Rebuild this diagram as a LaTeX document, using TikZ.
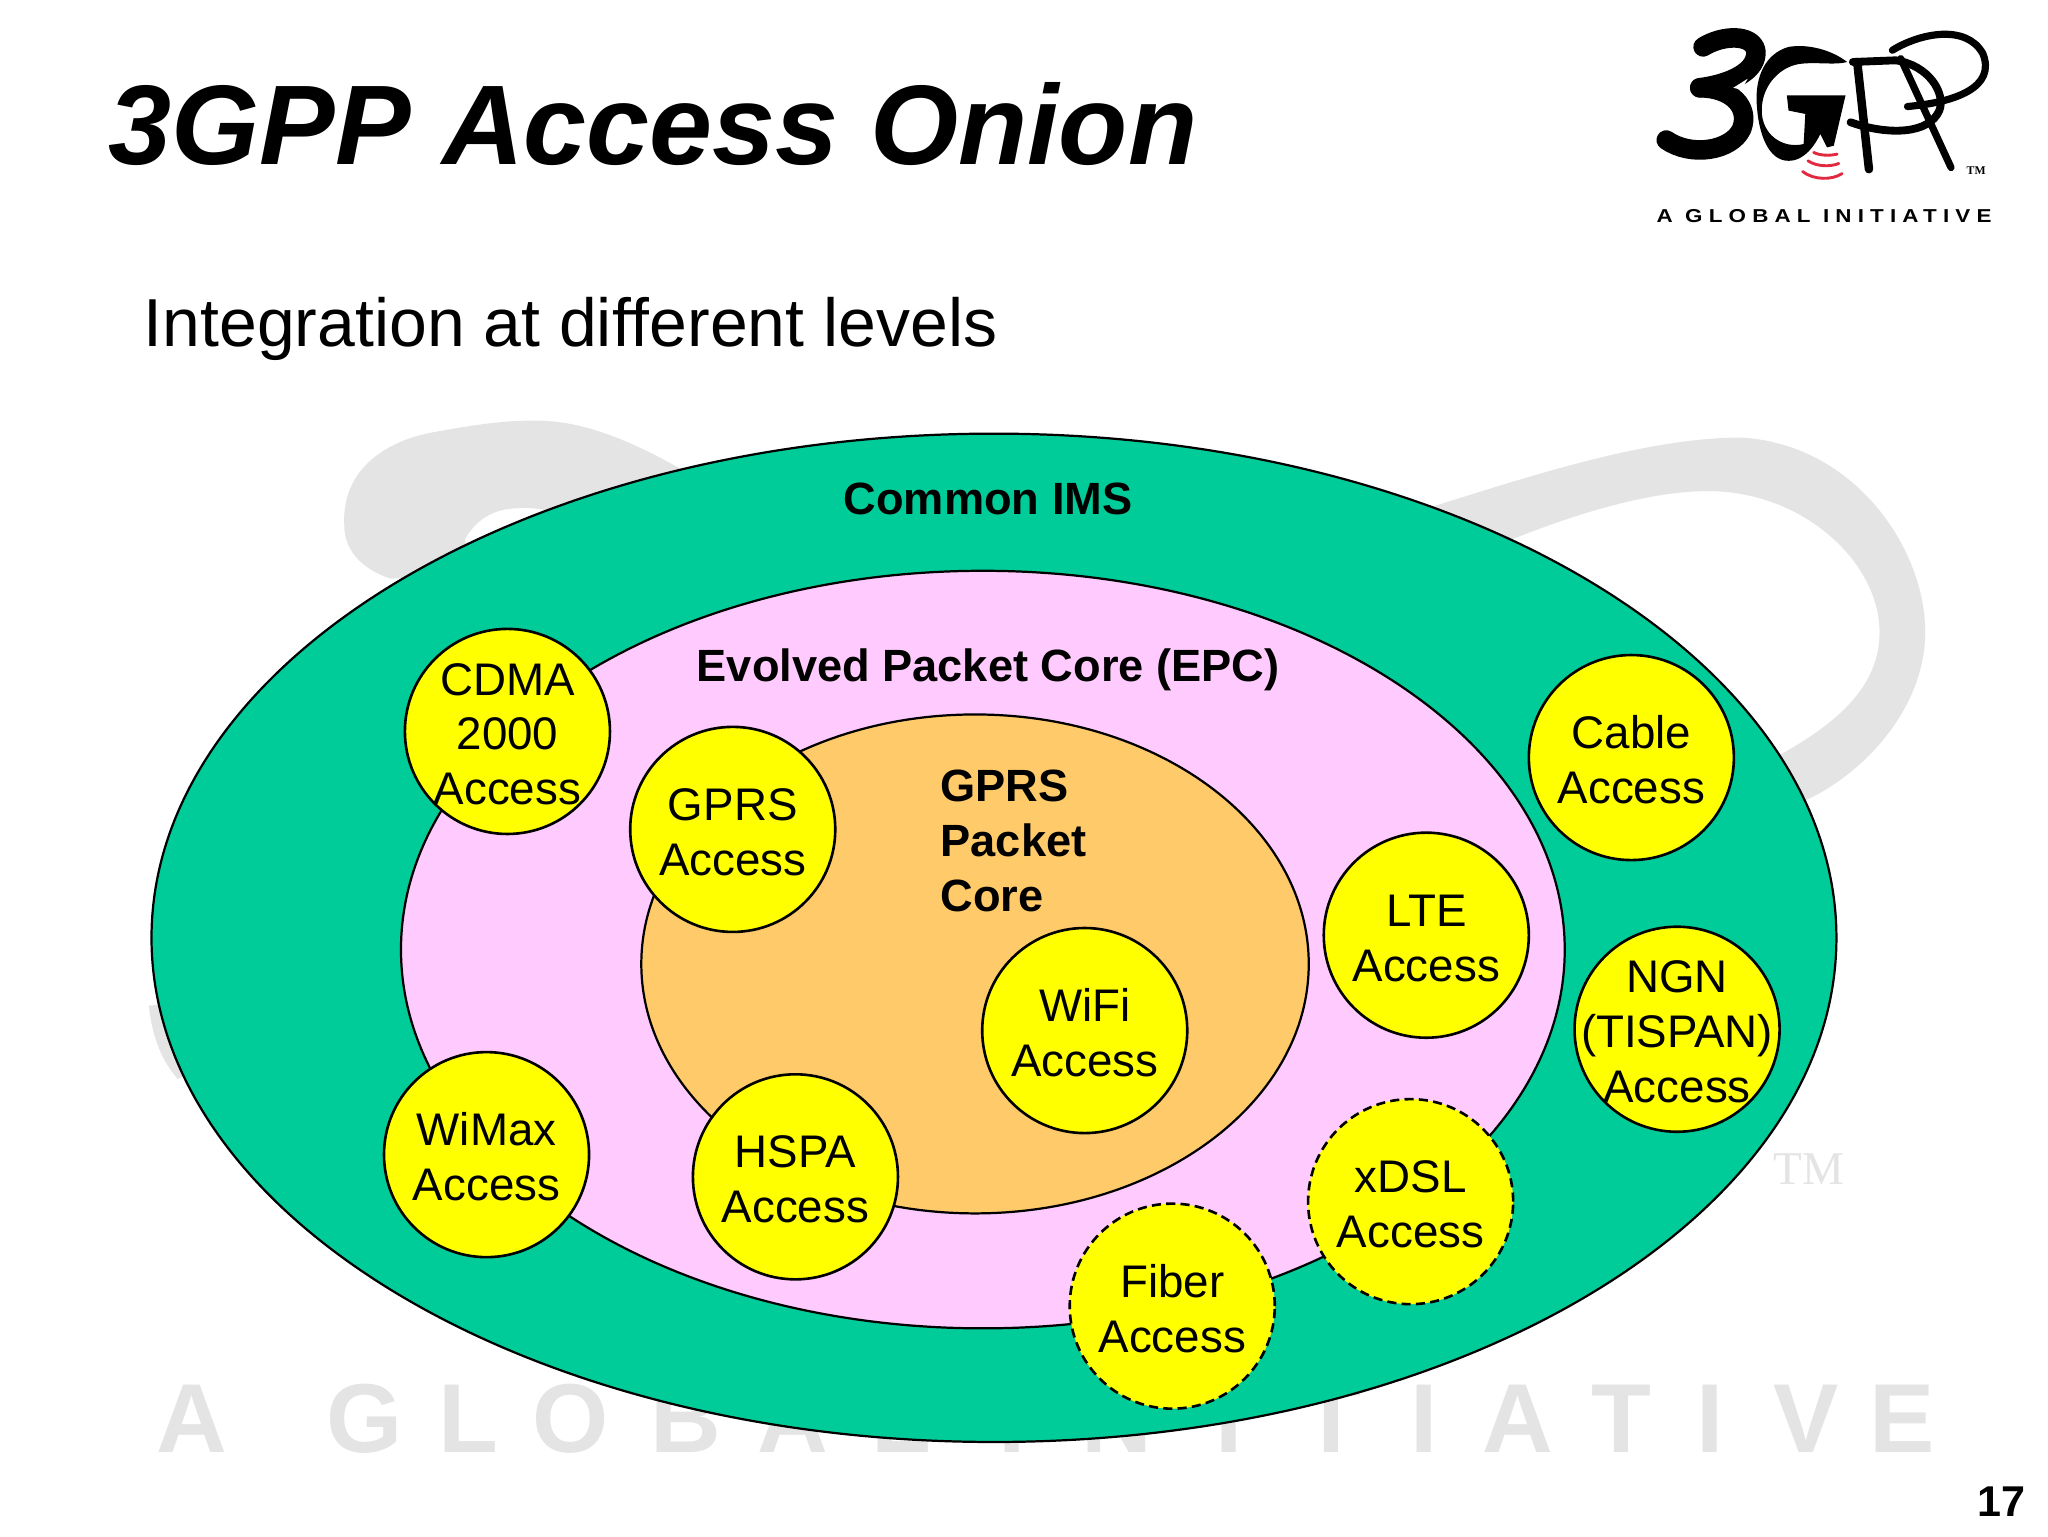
\documentclass[tikz,border=0pt]{standalone}
\usepackage{fontspec}
\setmainfont{Liberation Sans}
\newfontfamily\serifmark{Liberation Serif}
\newfontfamily\logotext[LetterSpace=33,FakeStretch=1.2]{Liberation Sans Bold}
\usetikzlibrary{shapes.geometric}
\definecolor{onionG}{HTML}{00CC99}
\definecolor{onionP}{HTML}{FFCAFD}
\definecolor{onionO}{HTML}{FFCA69}
\definecolor{onionY}{HTML}{FFFF00}
\definecolor{wm}{HTML}{E4E4E4}
\definecolor{wave}{HTML}{E2293F}
\newcommand{\cl}[1]{\makebox[0pt][c]{\raisebox{-12pt}[0pt][0pt]{\begin{tabular}{@{}c@{}}#1\end{tabular}}}}
\tikzset{
  layer/.style={ellipse,draw=black,line width=1.7pt,inner sep=0pt},
  acc/.style={circle,draw=black,fill=onionY,line width=2pt,minimum size=157pt,inner sep=0pt,
    font=\fontsize{35}{42}\selectfont},
  accd/.style={acc,dash pattern=on 7pt off 4pt},
  lbl/.style={inner sep=0pt,font=\fontsize{34.6}{42}\selectfont\bfseries},
  wmletter/.style={inner sep=0pt,anchor=base,text=wm,font=\fontsize{75}{78}\selectfont\bfseries},
  logostroke/.style={draw=black,line cap=round,line join=round},
  wavestroke/.style={draw=wave,line width=2.2pt,line cap=round}
}
\begin{document}
\begin{tikzpicture}[x=1pt,y=-1pt]
\useasboundingbox (0,0) rectangle (1568,1176);
\fill[white] (0,0) rectangle (1568,1176);
% watermark
\fill[wm] (263.6,403) .. controls (262,375) and (275,355) .. (299,342)
  .. controls (312,335) and (325,332) .. (337,330)
  .. controls (365,325) and (385,322) .. (410,322)
  .. controls (450,322) and (490,340) .. (540,370) -- (500,420) -- (430,395)
  .. controls (415,388) and (400,388) .. (387,390)
  .. controls (370,393) and (360,405) .. (356,413) -- (360,440) -- (299,443)
  .. controls (275,435) and (264,420) .. (263.6,403) -- cycle;
\fill[wm] (1090,390) .. controls (1170,365) and (1260,335) .. (1333,335)
  .. controls (1420,340) and (1474,420) .. (1474,484)
  .. controls (1474,540) and (1430,590) .. (1384,612) -- (1340,620) -- (1340,590)
  .. controls (1400,560) and (1439,530) .. (1439,484)
  .. controls (1439,430) and (1380,376) .. (1308,376)
  .. controls (1260,376) and (1200,395) .. (1140,420) -- cycle;
\fill[wm] (114,770) .. controls (116,790) and (122,810) .. (136,826) -- (200,800) -- (200,760) -- cycle;
\foreach \ch/\xx/\nm in {A/147/a1,G/279/g1,L/359/l1,O/437/o1,B/525/b1,A/607/a2,L/690/l2,I/775/i1,N/855/n1,I/941/i2,T/1019/t1,I/1090/i3,A/1162/a3,T/1241/t2,I/1309/i4,V/1383/v1,E/1456/e1}
  \node[wmletter] (wm\nm) at (\xx,1112) {\ch};
\node[inner sep=0pt,text=wm,font=\fontsize{36}{37}\serifmark] (wmtm) at (1385,895) {TM};
% onion
\node[layer,fill=onionG,minimum width=1290pt,minimum height=772pt] (ims) at (761,718) {};
\node[layer,fill=onionP,minimum width=891pt,minimum height=580pt] (epc) at (752.5,727) {};
\node[layer,fill=onionO,minimum width=511pt,minimum height=382pt] (gprscore) at (746.5,738) {};
\node[lbl,anchor=base] (imslbl) at (756.5,394) {Common IMS};
\node[lbl,anchor=base] (epclbl) at (756.5,522) {Evolved Packet Core (EPC)};
\node[lbl,anchor=base west] (g1lbl) at (720,614) {GPRS};
\node[lbl,anchor=base west] (g2lbl) at (720,656) {Packet};
\node[lbl,anchor=base west] (g3lbl) at (720,698) {Core};
% access circles
\node[acc] (cdma) at (388.5,560) {\cl{CDMA\\2000\\Access}};
\node[acc] (gprs) at (561,635) {\cl{GPRS\\Access}};
\node[acc] (wifi) at (830.5,789) {\cl{WiFi\\Access}};
\node[acc] (hspa) at (609,901) {\cl{HSPA\\Access}};
\node[acc] (wimax) at (372.5,884) {\cl{WiMax\\Access}};
\node[acc] (lte) at (1092,716) {\cl{LTE\\Access}};
\node[acc] (cable) at (1249,580) {\cl{Cable\\Access}};
\node[acc] (ngn) at (1284,788) {\cl{NGN\\(TISPAN)\\Access}};
\node[accd] (xdsl) at (1080,920) {\cl{xDSL\\Access}};
\node[accd] (fiber) at (897.5,1000) {\cl{Fiber\\Access}};
% titles
\node[inner sep=0pt,anchor=base west,font=\fontsize{86.7}{90}\selectfont\bfseries\itshape] (title) at (83,126) {3GPP Access Onion};
\node[inner sep=0pt,anchor=base west,font=\fontsize{52}{60}\selectfont] (subtitle) at (110,265) {Integration at dif\kern0pt ferent levels};
\node[inner sep=0pt,anchor=base east,font=\fontsize{33}{36}\selectfont\bfseries] (pagenum) at (1551,1161) {17};
% logo
\begin{scope}[shift={(1225.7,0)},x=.2565pt,y=-.2565pt]
\draw[logostroke,line width=15pt] (305,140) .. controls (360,105) and (450,100) .. (462,150)
  .. controls (470,210) and (390,250) .. (295,262);
\draw[logostroke,line width=15pt] (295,262) .. controls (390,262) and (445,320) .. (420,385)
  .. controls (390,450) and (270,470) .. (195,418);
\fill[black] (735,185) .. controls (690,150) and (620,130) .. (560,140)
  .. controls (490,160) and (460,230) .. (465,310)
  .. controls (470,400) and (500,480) .. (560,480)
  .. controls (610,480) and (640,430) .. (655,400) -- (675,440) -- (695,435) -- (730,285) -- (555,285) -- (560,330) -- (610,340)
  -- (605,430) .. controls (540,445) and (480,400) .. (480,330)
  .. controls (480,250) and (540,195) .. (600,190) .. controls (650,185) and (700,195) .. (735,185) -- cycle;
\fill[white] (395,262) -- (438,235) -- (420,268) -- cycle;
\draw[logostroke,line width=6.5pt] (765,185) -- (800,505);
\draw[logostroke,line width=6pt] (752,185) -- (880,180) .. controls (980,195) and (1030,280) .. (1010,330)
  .. controls (980,400) and (860,405) .. (745,365);
\draw[logostroke,line width=5.5pt] (870,150) .. controls (950,100) and (1090,70) .. (1140,160)
  .. controls (1180,260) and (1060,305) .. (915,318);
\draw[logostroke,line width=5.5pt] (895,175) -- (1045,500);
\draw[wavestroke] (635,455) .. controls (655,465) and (685,465) .. (705,460);
\draw[wavestroke] (618,480) .. controls (645,498) and (685,498) .. (710,488);
\draw[wavestroke] (602,512) .. controls (635,538) and (690,538) .. (720,518);
\node[inner sep=0pt,font=\fontsize{9}{9}\serifmark\bfseries] (logotm) at (1120,510) {TM};
\node[inner sep=0pt,anchor=base,font=\fontsize{14.3}{15}\logotext] (logotxt) at (666,665) {A GLOBAL INITIATIVE};
\end{scope}
\end{tikzpicture}
\end{document}
